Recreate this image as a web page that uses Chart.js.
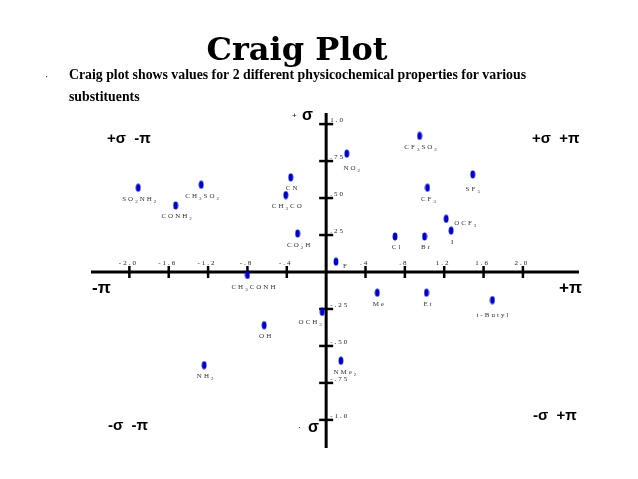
<!DOCTYPE html>
<html>
<head>
<meta charset="utf-8">
<script src="https://cdn.jsdelivr.net/npm/chart.js@4/dist/chart.umd.min.js"></script>
<style>
html, body { margin: 0; padding: 0; background: #fff; }
canvas { display: block; }
</style>
</head>
<body>
<canvas id="craig" width="638" height="479"></canvas>
<script>
// substituents, with "_" marking a subscript digit
const substituents = ['SO_2NH_2', 'CH_3SO_2', 'CONH_2', 'CN', 'CH_3CO', 'CO_2H',
  'NO_2', 'CF_3SO_2', 'CF_3', 'SF_5', 'OCF_3', 'I', 'Cl', 'Br',
  'F', 'CH_3CONH', 'Me', 'Et', 't-Butyl', 'OCH_3', 'OH', 'NH_2', 'NMe_2'];
// hydrophobicity (pi) on x
const piValues = [-1.91, -1.27, -1.53, -0.36, -0.41, -0.29,
  0.21, 0.95, 1.03, 1.49, 1.22, 1.27, 0.70, 1.00,
  0.10, -0.80, 0.52, 1.02, 1.69, -0.04, -0.63, -1.24, 0.15];
// Hammett sigma on y
const sigmaValues = [0.57, 0.59, 0.45, 0.64, 0.52, 0.26,
  0.80, 0.92, 0.57, 0.66, 0.36, 0.28, 0.24, 0.24,
  0.07, -0.02, -0.14, -0.14, -0.19, -0.27, -0.36, -0.63, -0.60];

const xTicks = [-2.0, -1.6, -1.2, -0.8, -0.4, 0.4, 0.8, 1.2, 1.6, 2.0];
const xTickLabels = ['-2.0', '-1.6', '-1.2', '-.8', '-.4', '.4', '.8', '1.2', '1.6', '2.0'];
const yTicks = [1.0, 0.75, 0.5, 0.25, -0.25, -0.5, -0.75, -1.0];
const yTickLabels = ['1.0', '.75', '.50', '.25', '-.25', '-.50', '-.75', '-1.0'];

// where a label sits relative to its dot (default is centred just below)
const labelNudge = {
  'OCF_3': { dx: 8, dy: 6, align: 'left' },
  'F': { dx: 7, dy: 6, align: 'left' },
  'OCH_3': { dx: -11, dy: 12 },
  'NO_2': { dx: 6, dy: 16 },
  'SF_5': { dx: 1, dy: 17 },
  't-Butyl': { dx: 1, dy: 17 },
  'CH_3CONH': { dx: 7, dy: 14 },
  'NMe_2': { dx: 5, dy: 13 }
};

// small blue ellipse used as the marker
function makeDot() {
  const c = document.createElement('canvas');
  c.width = 6; c.height = 9;
  const g = c.getContext('2d');
  g.fillStyle = '#0000cc';
  g.beginPath();
  g.ellipse(3, 4.5, 2.4, 3.9, 0, 0, Math.PI * 2);
  g.fill();
  return c;
}

function parseChem(str) {
  const parts = [];
  for (let i = 0; i < str.length; i++) {
    if (str[i] === '_') { parts.push({ t: str[i + 1], sub: true }); i++; }
    else parts.push({ t: str[i], sub: false });
  }
  return parts;
}

function drawSpaced(ctx, str, x, y, align) {
  const parts = parseChem(str);
  const main = '7px "Liberation Serif"', small = '5px "Liberation Serif"';
  ctx.letterSpacing = '2px';
  let w = 0;
  parts.forEach(p => { ctx.font = p.sub ? small : main; p.w = ctx.measureText(p.t).width; w += p.w; });
  let cx = align === 'left' ? x : x - w / 2;
  ctx.textAlign = 'left';
  ctx.textBaseline = 'alphabetic';
  parts.forEach(p => {
    ctx.font = p.sub ? small : main;
    ctx.fillText(p.t, cx, p.sub ? y + 2 : y);
    cx += p.w;
  });
  ctx.letterSpacing = '0px';
}

const axesPlugin = {
  id: 'craigAxes',
  beforeDatasetsDraw(chart) {
    const { ctx, chartArea, scales } = chart;
    const x0 = scales.x.getPixelForValue(0);
    const y0 = scales.y.getPixelForValue(0);
    ctx.save();
    ctx.strokeStyle = '#000';
    ctx.lineWidth = 3;
    ctx.beginPath();
    ctx.moveTo(chartArea.left, y0); ctx.lineTo(chartArea.right, y0);
    ctx.moveTo(x0, chartArea.top); ctx.lineTo(x0, chartArea.bottom);
    ctx.stroke();
    ctx.lineWidth = 2.5;
    ctx.fillStyle = '#222';
    xTicks.forEach((v, i) => {
      const px = scales.x.getPixelForValue(v);
      ctx.beginPath(); ctx.moveTo(px, y0 - 6); ctx.lineTo(px, y0 + 6); ctx.stroke();
      drawSpaced(ctx, xTickLabels[i], px - 1, y0 - 7, 'center');
    });
    yTicks.forEach((v, i) => {
      const py = scales.y.getPixelForValue(v);
      ctx.beginPath(); ctx.moveTo(x0 - 7, py); ctx.lineTo(x0 + 7, py); ctx.stroke();
      drawSpaced(ctx, yTickLabels[i], x0 + 4, py - 2, 'left');
    });
    ctx.restore();
  },
  afterDatasetsDraw(chart) {
    const { ctx, scales } = chart;
    ctx.save();
    ctx.fillStyle = '#333';
    substituents.forEach((name, i) => {
      const n = labelNudge[name] || { dx: 2, dy: 13 };
      const px = scales.x.getPixelForValue(piValues[i]) + n.dx;
      const py = scales.y.getPixelForValue(sigmaValues[i]) + n.dy;
      drawSpaced(ctx, name, px, py, n.align || 'center');
    });

    // page text
    ctx.fillStyle = '#000';
    ctx.textBaseline = 'alphabetic';
    ctx.textAlign = 'center';
    ctx.font = 'bold 32px "DejaVu Serif"';
    ctx.fillText('Craig Plot', 297, 60);
    ctx.textAlign = 'left';
    ctx.font = 'bold 13.8px "Liberation Serif"';
    ctx.fillText('Craig plot shows values for 2 different physicochemical properties for various', 69, 79);
    ctx.fillText('substituents', 69, 101);
    ctx.font = '10px "Liberation Serif"';
    ctx.fillText('·', 45, 80);

    ctx.font = 'bold 15px "Liberation Sans"';
    ctx.fillText('+σ  -π', 107, 143);
    ctx.fillText('+σ  +π', 532, 143);
    ctx.fillText('-σ  -π', 108, 430);
    ctx.fillText('-σ  +π', 533, 420);
    ctx.font = 'bold 17px "Liberation Sans"';
    ctx.fillText('-π', 92, 293);
    ctx.fillText('+π', 559, 293);
    ctx.font = 'bold 16px "Liberation Sans"';
    ctx.fillText('σ', 302, 120);
    ctx.fillText('σ', 308, 432);
    ctx.font = '8px "Liberation Sans"';
    ctx.fillText('+', 292, 118);
    ctx.fillText('·', 298, 430);
    ctx.restore();
  }
};

new Chart(document.getElementById('craig'), {
  type: 'scatter',
  data: {
    datasets: [{
      label: 'substituents',
      data: piValues.map((p, i) => ({ x: p, y: sigmaValues[i] })),
      pointStyle: makeDot(),
      pointRadius: 4
    }]
  },
  options: {
    responsive: false,
    animation: false,
    devicePixelRatio: 1,
    layout: { padding: { left: 91, right: 59, top: 113, bottom: 31 } },
    scales: {
      x: { type: 'linear', min: -2.39, max: 2.57, display: false },
      y: { type: 'linear', min: -1.19, max: 1.075, display: false }
    },
    plugins: { legend: { display: false }, tooltip: { enabled: false } }
  },
  plugins: [axesPlugin]
});
</script>
</body>
</html>
